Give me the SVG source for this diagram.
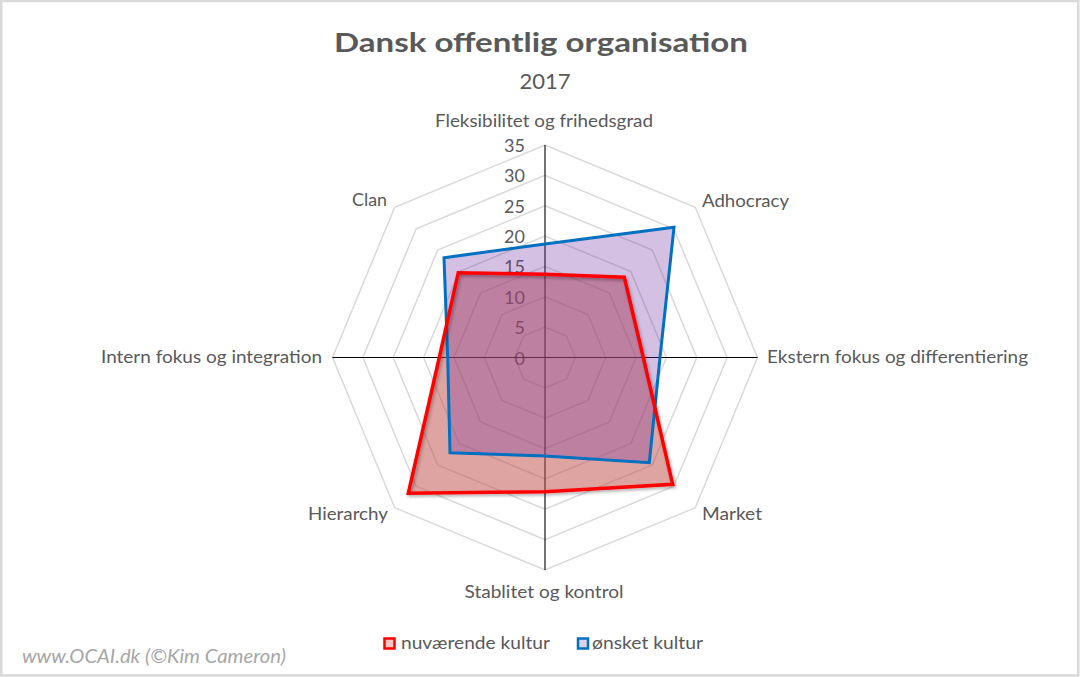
<svg xmlns="http://www.w3.org/2000/svg" width="1080" height="677" viewBox="0 0 1080 677">
<style>
.t{font-family:Lato,"Liberation Sans",sans-serif;fill:#595959}
.lbl{font-size:18px}
.tick{font-size:18px;text-anchor:end}
.grid{fill:none;stroke:#D9D9D9;stroke-width:1.5}
.axis{stroke:#000;stroke-width:1.1}
</style>
<defs>
<filter id="sh" x="-10%" y="-10%" width="130%" height="130%">
<feDropShadow dx="1.5" dy="2" stdDeviation="1.5" flood-color="#000" flood-opacity="0.3"/>
</filter>
</defs>
<rect x="0" y="0" width="1080" height="677" fill="#fff"/>
<rect x="1.25" y="1" width="1077" height="674.5" fill="none" stroke="#D9D9D9" stroke-width="2.5"/>

<g id="title">
<text class="t" x="541" y="52" text-anchor="middle" font-size="27" font-weight="bold" textLength="414" lengthAdjust="spacingAndGlyphs">Dansk offentlig organisation</text>
<text class="t" x="545" y="89" text-anchor="middle" font-size="22">2017</text>
</g>

<g id="grid">
<polygon class="grid" points="545,327.14 566.47,336.03 575.36,357.5 566.47,378.97 545,387.86 523.53,378.97 514.64,357.5 523.53,336.03"/>
<polygon class="grid" points="545,296.79 587.93,314.57 605.71,357.5 587.93,400.43 545,418.21 502.07,400.43 484.29,357.5 502.07,314.57"/>
<polygon class="grid" points="545,266.43 609.40,293.10 636.07,357.5 609.40,421.90 545,448.57 480.60,421.90 453.93,357.5 480.60,293.10"/>
<polygon class="grid" points="545,236.07 630.86,271.64 666.43,357.5 630.86,443.36 545,478.93 459.14,443.36 423.57,357.5 459.14,271.64"/>
<polygon class="grid" points="545,205.71 652.33,250.17 696.79,357.5 652.33,464.83 545,509.29 437.67,464.83 393.21,357.5 437.67,250.17"/>
<polygon class="grid" points="545,175.36 673.80,228.70 727.14,357.5 673.80,486.30 545,539.64 416.20,486.30 362.86,357.5 416.20,228.70"/>
<polygon class="grid" points="545,145 695.26,207.24 757.5,357.5 695.26,507.76 545,570 394.74,507.76 332.5,357.5 394.74,207.24"/>
</g>

<g id="ticks">
<text class="t tick" x="525" y="152">35</text>
<text class="t tick" x="525" y="182.4">30</text>
<text class="t tick" x="525" y="212.7">25</text>
<text class="t tick" x="525" y="243.1">20</text>
<text class="t tick" x="525" y="273.4">15</text>
<text class="t tick" x="525" y="303.8">10</text>
<text class="t tick" x="525" y="334.1">5</text>
<text class="t tick" x="525" y="364.5">0</text>
</g>

<g id="connectors">
<line class="axis" x1="545" y1="145" x2="545" y2="570"/>
<line class="axis" x1="332.5" y1="357.5" x2="757.5" y2="357.5"/>
</g>

<g id="series-nuvaerende-fill">
<polygon points="545,274.3 624.3,277.3 643.3,357.5 672.7,484.3 545,491.7 408.3,493.3 439.3,357.5 458.3,272.7" fill="rgb(192,80,77)" fill-opacity="0.52"/>
</g>
<g id="series-onsket">
<polygon points="545,244 674,227.3 660,357.5 649.3,462.7 545,456 450,452.7 447.7,357.5 444,257.7" fill="rgb(112,48,160)" fill-opacity="0.3" stroke="#0070C0" stroke-width="3" stroke-linejoin="miter"/>
</g>
<g id="series-nuvaerende">
<polygon points="545,274.3 624.3,277.3 643.3,357.5 672.7,484.3 545,491.7 408.3,493.3 439.3,357.5 458.3,272.7" fill="none" stroke="#FF0000" stroke-width="3.5" stroke-linejoin="miter" filter="url(#sh)"/>
</g>

<g id="axis-labels">
<text class="t lbl" x="544" y="127" text-anchor="middle" textLength="218" lengthAdjust="spacingAndGlyphs">Fleksibilitet og frihedsgrad</text>
<text class="t lbl" x="702" y="207" textLength="87" lengthAdjust="spacingAndGlyphs">Adhocracy</text>
<text class="t lbl" x="767" y="363" textLength="261" lengthAdjust="spacingAndGlyphs">Ekstern fokus og differentiering</text>
<text class="t lbl" x="702" y="520" textLength="60" lengthAdjust="spacingAndGlyphs">Market</text>
<text class="t lbl" x="544" y="598" text-anchor="middle" textLength="159" lengthAdjust="spacingAndGlyphs">Stablitet og kontrol</text>
<text class="t lbl" x="388" y="520" text-anchor="end" textLength="80" lengthAdjust="spacingAndGlyphs">Hierarchy</text>
<text class="t lbl" x="322" y="363" text-anchor="end" textLength="221" lengthAdjust="spacingAndGlyphs">Intern fokus og integration</text>
<text class="t lbl" x="387" y="206" text-anchor="end" textLength="35" lengthAdjust="spacingAndGlyphs">Clan</text>
</g>

<g id="legend">
<rect x="384.5" y="638.5" width="10" height="10" fill="#F4C7C6" stroke="#FF0000" stroke-width="2.5"/>
<text class="t lbl" x="401" y="649" textLength="149" lengthAdjust="spacingAndGlyphs">nuværende kultur</text>
<rect x="578" y="638.5" width="10" height="10" fill="#DCD3EA" stroke="#0070C0" stroke-width="2.5"/>
<text class="t lbl" x="592" y="649" textLength="111" lengthAdjust="spacingAndGlyphs">ønsket kultur</text>
</g>

<g id="credit">
<text x="22" y="663" font-family="Lato,'Liberation Sans',sans-serif" font-style="italic" font-size="19" fill="#A6A6A6" textLength="264" lengthAdjust="spacingAndGlyphs">www.OCAI.dk (©Kim Cameron)</text>
</g>
</svg>
